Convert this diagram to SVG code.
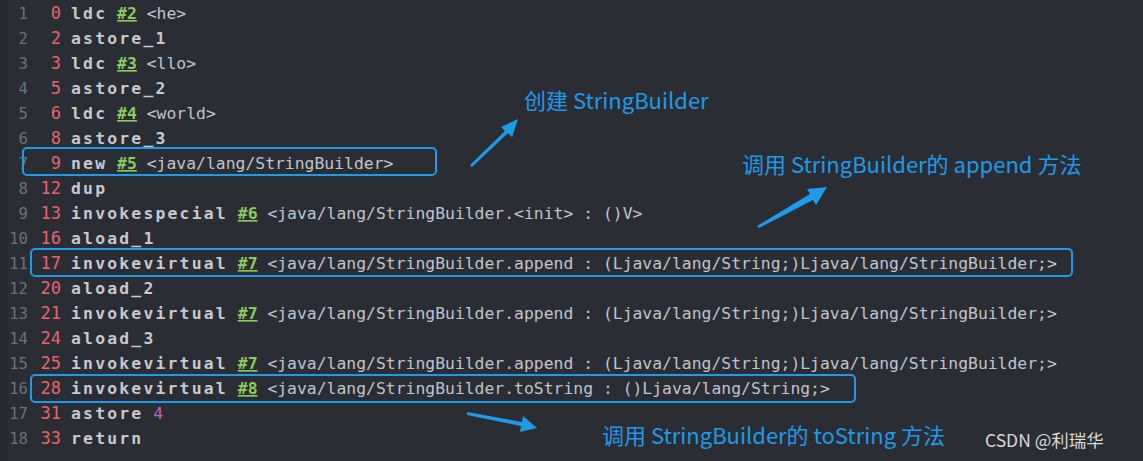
<svg xmlns="http://www.w3.org/2000/svg" width="1143" height="461" viewBox="0 0 1143 461">
<style>
.c{font-family:"DejaVu Sans Mono","Liberation Mono",monospace;font-size:16.4px;fill:#bfc4cd}
.n{fill:#6c717a;text-anchor:end;font-size:15.6px}
.o{fill:#e8636f;text-anchor:end;font-size:17px}
.b{font-weight:bold;fill:#c5c9d1;letter-spacing:2.2px}
.g{fill:#8dcb5f;text-decoration:underline;font-weight:bold}
.p{fill:#b866d0}
.box{fill:none;stroke:#1e9be8;stroke-width:2}
.lab{font-family:"Noto Sans CJK SC","Noto Sans",sans-serif;font-size:22px;fill:#1e9be8}
.arr{fill:#1e9be8}
</style>
<rect width="1143" height="461" fill="#2b2d34"/>
<rect width="8" height="461" fill="#26282e"/>
<g id="code" class="c">
<text y="19"><tspan class="n" x="28">1</tspan><tspan class="o" x="61">0</tspan><tspan class="b" x="71">ldc</tspan> <tspan class="g">#2</tspan> &lt;he&gt;</text>
<text y="44"><tspan class="n" x="28">2</tspan><tspan class="o" x="61">2</tspan><tspan class="b" x="71">astore_1</tspan></text>
<text y="69"><tspan class="n" x="28">3</tspan><tspan class="o" x="61">3</tspan><tspan class="b" x="71">ldc</tspan> <tspan class="g">#3</tspan> &lt;llo&gt;</text>
<text y="94"><tspan class="n" x="28">4</tspan><tspan class="o" x="61">5</tspan><tspan class="b" x="71">astore_2</tspan></text>
<text y="119"><tspan class="n" x="28">5</tspan><tspan class="o" x="61">6</tspan><tspan class="b" x="71">ldc</tspan> <tspan class="g">#4</tspan> &lt;world&gt;</text>
<text y="144"><tspan class="n" x="28">6</tspan><tspan class="o" x="61">8</tspan><tspan class="b" x="71">astore_3</tspan></text>
<text y="169"><tspan class="n" x="28">7</tspan><tspan class="o" x="61">9</tspan><tspan class="b" x="71">new</tspan> <tspan class="g">#5</tspan> &lt;java/lang/StringBuilder&gt;</text>
<text y="194"><tspan class="n" x="28">8</tspan><tspan class="o" x="61">12</tspan><tspan class="b" x="71">dup</tspan></text>
<text y="219"><tspan class="n" x="28">9</tspan><tspan class="o" x="61">13</tspan><tspan class="b" x="71">invokespecial</tspan> <tspan class="g">#6</tspan> &lt;java/lang/StringBuilder.&lt;init&gt; : ()V&gt;</text>
<text y="244"><tspan class="n" x="28">10</tspan><tspan class="o" x="61">16</tspan><tspan class="b" x="71">aload_1</tspan></text>
<text y="269"><tspan class="n" x="28">11</tspan><tspan class="o" x="61">17</tspan><tspan class="b" x="71">invokevirtual</tspan> <tspan class="g">#7</tspan> &lt;java/lang/StringBuilder.append : (Ljava/lang/String;)Ljava/lang/StringBuilder;&gt;</text>
<text y="294"><tspan class="n" x="28">12</tspan><tspan class="o" x="61">20</tspan><tspan class="b" x="71">aload_2</tspan></text>
<text y="319"><tspan class="n" x="28">13</tspan><tspan class="o" x="61">21</tspan><tspan class="b" x="71">invokevirtual</tspan> <tspan class="g">#7</tspan> &lt;java/lang/StringBuilder.append : (Ljava/lang/String;)Ljava/lang/StringBuilder;&gt;</text>
<text y="344"><tspan class="n" x="28">14</tspan><tspan class="o" x="61">24</tspan><tspan class="b" x="71">aload_3</tspan></text>
<text y="369"><tspan class="n" x="28">15</tspan><tspan class="o" x="61">25</tspan><tspan class="b" x="71">invokevirtual</tspan> <tspan class="g">#7</tspan> &lt;java/lang/StringBuilder.append : (Ljava/lang/String;)Ljava/lang/StringBuilder;&gt;</text>
<text y="394"><tspan class="n" x="28">16</tspan><tspan class="o" x="61">28</tspan><tspan class="b" x="71">invokevirtual</tspan> <tspan class="g">#8</tspan> &lt;java/lang/StringBuilder.toString : ()Ljava/lang/String;&gt;</text>
<text y="419"><tspan class="n" x="28">17</tspan><tspan class="o" x="61">31</tspan><tspan class="b" x="71">astore</tspan> <tspan class="p">4</tspan></text>
<text y="444"><tspan class="n" x="28">18</tspan><tspan class="o" x="61">33</tspan><tspan class="b" x="71">return</tspan></text>
</g>
<g id="boxes">
<rect class="box" x="23" y="148" width="413" height="27" rx="4"/>
<rect class="box" x="31" y="249" width="1041" height="27" rx="4"/>
<rect class="box" x="31" y="375" width="824" height="27" rx="4"/>
</g>
<g id="connectors" class="arr">
<polygon points="470,165 472,167 508,133 512,137 518,119 501,127 505,131"/>
<polygon points="757,226 759,228 813,200 816,205 827,187 807,189 810,194"/>
<polygon points="467,412 467,415 521,426 520,432 537,428 523,416 522,422"/>
</g>
<g id="labels">
<text class="lab" x="524" y="109">创建 StringBuilder</text>
<text class="lab" x="742" y="173">调用 StringBuilder的 append 方法</text>
<text class="lab" x="602" y="444">调用 StringBuilder的 toString 方法</text>
<text x="985" y="447" style="font-family:'Noto Sans CJK SC','Noto Sans',sans-serif;font-size:17.5px;fill:#d8d9dc">CSDN @利瑞华</text>
</g>
</svg>
